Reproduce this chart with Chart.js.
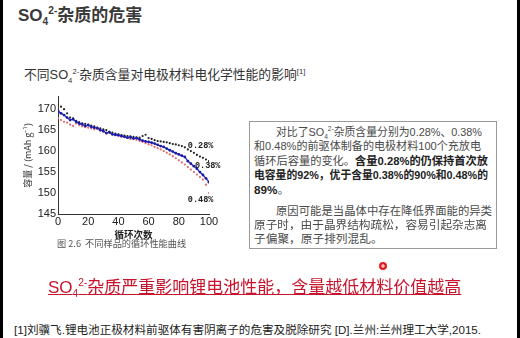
<!DOCTYPE html>
<html><head><meta charset="utf-8">
<script src="https://cdn.jsdelivr.net/npm/chart.js@4/dist/chart.umd.min.js"></script>
<style>
html,body{margin:0;padding:0;background:#fff;width:520px;height:338px;overflow:hidden;position:relative;font-family:"Liberation Sans","Noto Sans CJK SC",sans-serif;}
.bar{position:absolute;top:0;height:338px;background:#000;}
#title{position:absolute;left:18px;top:1px;font-size:17px;font-weight:bold;color:#3a3a3a;white-space:nowrap;}
#sub{position:absolute;left:24px;top:64px;font-size:12.8px;color:#333;white-space:nowrap;}
sub,sup{font-size:60%;line-height:0;}
#cwrap{position:absolute;left:22px;top:88px;width:212px;height:152px;}
#cap{position:absolute;left:57px;top:236px;font-size:9.2px;color:#555;white-space:nowrap;font-family:"Noto Sans CJK SC",serif;}
#box{position:absolute;left:249px;top:121px;width:248px;height:128px;border:1px solid #9a9a9a;font-family:"Liberation Sans","Noto Sans CJK SC",sans-serif;font-size:11.7px;line-height:14.4px;color:#4a4a4a;padding:3px 0 0 4px;box-sizing:border-box;white-space:nowrap;}
#box .ln{display:block;transform-origin:0 50%;width:max-content;}
#box b{color:#222;}
#box .gap{height:6.5px;}
#concl{position:absolute;left:48px;top:273px;font-size:17px;color:#c8142c;text-decoration:underline;white-space:nowrap;}
#ref{position:absolute;left:14px;top:321px;font-size:11.6px;color:#222;white-space:nowrap;}
#dot{position:absolute;left:379px;top:262px;width:8px;height:8px;border-radius:50%;background:radial-gradient(circle,#fbb 0 25%,#e02020 35% 70%,rgba(230,40,40,0.3) 100%);}
</style></head>
<body>
<div class="bar" style="left:0;width:3px"></div>
<div class="bar" style="left:517px;width:3px"></div>
<div id="title">SO<sub>4</sub><sup>2-</sup>杂质的危害</div>
<div id="sub">不同SO<sub>4</sub><sup>2-</sup>杂质含量对电极材料电化学性能的影响<sup>[1]</sup></div>
<div id="cwrap"><canvas id="c" width="212" height="152"></canvas></div>
<div id="cap">图 2.6&nbsp; 不同样品的循环性能曲线</div>
<div id="box">
<span class="ln" data-w="206" style="margin-left:22px">对比了SO<sub>4</sub><sup>2-</sup>杂质含量分别为0.28%、0.38%</span>
<span class="ln" data-w="227">和0.48%的前驱体制备的电极材料100个充放电</span>
<span class="ln" data-w="234">循环后容量的变化。<b>含量0.28%的仍保持首次放</b></span>
<span class="ln" data-w="234"><b>电容量的92%，优于含量0.38%的90%和0.48%的</b></span>
<span class="ln"><b>89%</b>。</span>
<div class="gap"></div>
<span class="ln" data-w="216" style="margin-left:22px">原因可能是当晶体中存在降低界面能的异类</span>
<span class="ln" data-w="233">原子时，由于晶界结构疏松，容易引起杂志离</span>
<span class="ln">子偏聚，原子排列混乱。</span>
</div>
<div id="dot"></div>
<div id="concl">SO<sub>4</sub><sup>2-</sup>杂质严重影响锂电池性能，含量越低材料价值越高</div>
<div id="ref">[1]刘骥飞.锂电池正极材料前驱体有害阴离子的危害及脱除研究 [D].兰州:兰州理工大学,2015.</div>
<script>
const cycles = [0,2,4,6,8,10,12,14,16,18,20,22,24,26,28,30,32,34,36,38,40,42,44,46,48,50,52,54,56,58,60,62,64,66,68,70,72,74,76,78,80,82,84,86,88,90,92,94,96,98,100];
const cap028 = [171.2,170.6,170.0,169.0,168.0,167.8,167.2,166.9,166.6,166.5,166.3,166.1,165.9,165.6,165.4,165.2,165.0,164.6,164.4,164.2,164.0,163.8,163.7,163.6,163.5,163.4,163.3,163.2,163.6,163.9,163.1,162.9,162.6,162.4,162.3,162.2,162.1,161.9,161.7,161.6,161.4,161.2,160.9,160.4,160.0,159.6,159.1,158.7,158.4,158.0,157.6];
const cap038 = [169.6,169.0,168.6,168.0,167.4,167.6,167.0,166.6,166.4,166.0,166.2,165.8,165.6,165.5,165.0,164.8,164.3,164.5,164.0,163.9,163.8,163.6,163.4,163.2,163.3,163.0,163.1,162.8,162.5,162.3,162.2,162.0,161.8,161.5,161.2,161.0,160.6,160.2,159.9,159.5,159.2,158.9,158.6,157.6,157.0,156.4,155.8,155.0,154.3,153.5,152.6];
const cap048 = [167.8,167.4,167.0,166.8,166.3,166.0,166.6,166.2,165.9,165.7,165.6,165.4,165.2,165.3,165.0,164.6,164.2,164.4,164.0,163.8,163.6,163.4,163.5,163.2,162.9,163.0,162.7,162.4,162.2,161.9,161.6,161.4,161.0,160.7,160.4,160.0,159.6,159.2,158.8,158.3,157.8,157.3,156.8,156.2,155.6,155.0,154.4,153.8,153.2,152.0,150.0];
const seriesLabels = ['0.28%','0.38%','0.48%'];
const yTickValues = [145,150,155,160,165,170];
const xTickValues = [0,20,40,60,80,100];
const yTitle = '容量 / (mAh g⁻¹)';
const xTitle = '循环次数';

// fit text-box lines to the widths seen in the reference
document.querySelectorAll('#box .ln[data-w]').forEach(el=>{
  const w = el.getBoundingClientRect().width;
  el.style.transform = 'scaleX(' + (parseFloat(el.dataset.w)/w) + ')';
});

const pts = arr => cycles.map((c,i)=>({x:c,y:arr[i]}));
const anchors = [{x:86,y:161.3},{x:90.7,y:156.5},{x:86,y:148.4}];

const labelPlugin = {
  id:'seriesLabels',
  afterDatasetsDraw(chart){
    const {ctx, scales:{x,y}} = chart;
    ctx.save();
    ctx.font = 'bold 8.5px "Liberation Mono", monospace';
    ctx.fillStyle = '#222';
    ctx.textBaseline = 'middle';
    seriesLabels.forEach((t,i)=>{
      ctx.fillText(t, x.getPixelForValue(anchors[i].x), y.getPixelForValue(anchors[i].y));
    });
    ctx.restore();
  }
};

new Chart(document.getElementById('c'),{
  type:'scatter',
  data:{datasets:[
    {label:seriesLabels[0],data:pts(cap028),pointRadius:1.1,pointBackgroundColor:'#222',pointBorderWidth:0,showLine:false,order:2},
    {label:seriesLabels[2],data:pts(cap048),pointRadius:1.1,pointBackgroundColor:'#e26a6a',pointBorderWidth:0,showLine:false,order:3},
    {label:seriesLabels[1],data:pts(cap038),pointRadius:1.4,pointBackgroundColor:'#1c1ca8',pointBorderWidth:0,showLine:true,borderColor:'#2a2ab8',borderWidth:1.3,order:1}
  ]},
  options:{
    responsive:false,animation:false,
    layout:{padding:{top:7,right:25,left:0,bottom:0}},
    plugins:{legend:{display:false},tooltip:{enabled:false}},
    scales:{
      x:{type:'linear',min:0,max:100,
        grid:{display:false,drawTicks:false},border:{display:true,color:'#333',width:1},
        ticks:{padding:1,color:'#222',font:{family:'"Liberation Sans"',size:11},autoSkip:false,maxRotation:0},
        afterBuildTicks:s=>{s.ticks = xTickValues.map(v=>({value:v}));},
        title:{display:true,text:xTitle,color:'#222',padding:{top:0,bottom:0},font:{family:'"Noto Sans CJK SC"',size:9.5,weight:'bold'}},
        afterFit:s=>{s.height=26;}
      },
      y:{type:'linear',min:145,max:173,
        grid:{display:false,drawTicks:false},border:{display:true,color:'#333',width:1},
        ticks:{padding:2,color:'#222',font:{family:'"Liberation Sans"',size:11},autoSkip:false},
        afterBuildTicks:s=>{s.ticks = yTickValues.map(v=>({value:v}));},
        title:{display:true,text:yTitle,color:'#333',padding:{top:0,bottom:0},font:{family:'"Noto Sans CJK SC"',size:9}},
        afterFit:s=>{s.width=36;}
      }
    }
  },
  plugins:[labelPlugin]
});
</script>
</body></html>
